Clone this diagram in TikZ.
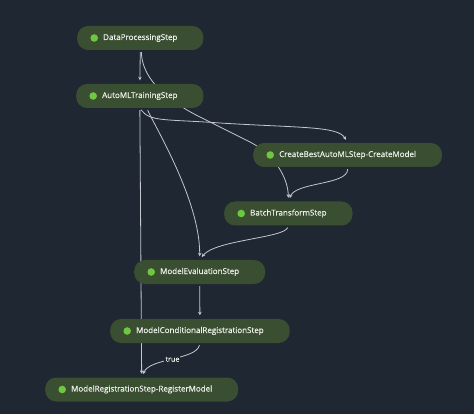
\documentclass[tikz,border=0pt]{standalone}
\usepackage{fontspec}
\setmainfont{Open Sans}
\newfontfamily\nodefont{Open Sans}[UprightFeatures={FakeBold=0.3}]
\usetikzlibrary{arrows.meta}
\pgfdeclarelayer{bgl}
\pgfdeclarelayer{edges}
\pgfsetlayers{bgl,edges,main}
\definecolor{bgc}{HTML}{1F2733}
\definecolor{nodefill}{HTML}{3A4E31}
\definecolor{dotc}{HTML}{6FC63F}
\definecolor{edgec}{HTML}{C3C8CF}
\definecolor{txtc}{HTML}{EEF0EC}
\begin{document}
\begin{tikzpicture}[x=1pt,y=-1pt,
  pill/.style={rectangle, rounded corners=11pt, fill=nodefill, anchor=west,
    minimum height=24pt, inner xsep=26pt, inner ysep=0pt, text=txtc,
    text height=6pt, text depth=2pt, font=\nodefont\fontsize{8}{9}\selectfont,
    path picture={\fill[dotc] ([xshift=17pt]path picture bounding box.west) circle (3.8pt);}},
  edge/.style={draw=edgec, line width=0.8pt, -{Stealth[length=3.5pt,width=3.5pt]},
    shorten >=3.5pt, shorten <=2pt},
  lbl/.style={fill=bgc, text=txtc, inner sep=1pt, font=\nodefont\fontsize{7.2}{8}\selectfont}
]
\useasboundingbox (0,0) rectangle (474,414);
\begin{pgfonlayer}{bgl}
  \fill[bgc] (0,0) rectangle (474,414);
\end{pgfonlayer}

\node[pill] (dp)  at (77,38)    {DataProcessingStep};
\node[pill] (aml) at (76,96)    {AutoMLTrainingStep};
\node[pill] (cb)  at (253,155)  {CreateBestAutoMLStep-CreateModel};
\node[pill] (bt)  at (224,213.5){BatchTransformStep};
\node[pill] (me)  at (134,272)  {ModelEvaluationStep};
\node[pill] (mc)  at (110,331)  {ModelConditionalRegistrationStep};
\node[pill] (mr)  at (45,389.5) {ModelRegistrationStep-RegisterModel};

\begin{pgfonlayer}{edges}
  \draw[edge] (dp.south) -- (aml.north);
  \draw[edge] ([xshift=1pt]dp.south) .. controls (142,75) and (160,97) .. (200,117)
      -- (250,142) .. controls (275,155) and (288,178) .. (bt.north);
  \draw[edge] ([xshift=7pt]aml.south) .. controls (154,125) and (200,200) .. (me.north);
  \draw[edge] (aml.south) -- (mr.north);
  \draw[edge] (aml.south) .. controls (150,122) and (165,119) .. (220,123)
      .. controls (300,128) and (338,126) .. (cb.north);
  \draw[edge] (cb.south) .. controls (348,185) and (296,182) .. (bt.north);
  \draw[edge] (bt.south) .. controls (284,238) and (215,240) .. (me.north);
  \draw[edge] (me.south) -- (mc.north);
  \draw[edge] (mc.south) .. controls (196,360) and (150,358) .. node[lbl, pos=0.5] (tl) {true} (mr.north);
\end{pgfonlayer}
\end{tikzpicture}
\end{document}
